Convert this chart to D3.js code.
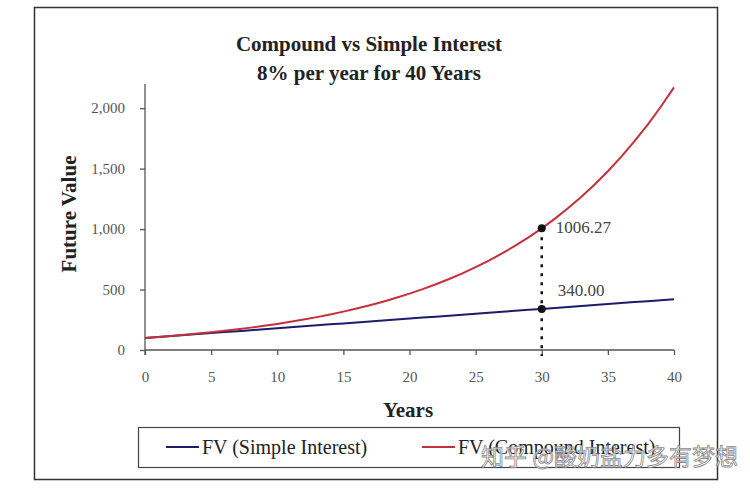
<!DOCTYPE html>
<html lang="en">
<head>
<meta charset="UTF-8">
<title>Compound vs Simple Interest</title>
<style>
  body { margin: 0; background: #fff; }
  .canvas text { font-family: "Liberation Serif", "DejaVu Serif", serif; }
</style>
</head>
<body>
<div class="canvas"></div>
<script src="https://d3js.org/d3.v7.min.js"></script>
<script>
// data (yearly values)
const years = d3.range(0, 41);
const simpleFV = [100, 108, 116, 124, 132, 140, 148, 156, 164, 172, 180,
  188, 196, 204, 212, 220, 228, 236, 244, 252, 260,
  268, 276, 284, 292, 300, 308, 316, 324, 332, 340,
  348, 356, 364, 372, 380, 388, 396, 404, 412, 420];
const compoundFV = [100.00, 108.00, 116.64, 125.97, 136.05, 146.93, 158.69, 171.38, 185.09, 199.90, 215.89,
  233.16, 251.82, 271.96, 293.72, 317.22, 342.59, 370.00, 399.60, 431.57, 466.10,
  503.38, 543.65, 587.15, 634.12, 684.85, 739.64, 798.81, 862.71, 931.73, 1006.27,
  1086.77, 1173.71, 1267.60, 1369.01, 1478.53, 1596.81, 1724.56, 1862.52, 2011.52, 2172.45];
const xTicks = [0, 5, 10, 15, 20, 25, 30, 35, 40];
const yTicks = [0, 500, 1000, 1500, 2000];
const markYear = 30;
const seriesNames = ["FV (Simple Interest)", "FV (Compound Interest)"];

const W = 750, H = 490;
const plot = { left: 145, right: 674, top: 84, bottom: 350 };

const svg = d3.select('.canvas').append('svg')
  .attr('width', W).attr('height', H);

// outer chart frame
svg.append('rect')
  .attr('x', 34.5).attr('y', 7.5)
  .attr('width', 683).attr('height', 472)
  .attr('fill', '#fff').attr('stroke', '#333').attr('stroke-width', 1.5);

const x = d3.scaleLinear().domain([0, 40]).range([plot.left, plot.right]);
const y = d3.scaleLinear().domain([0, 2200]).range([plot.bottom, plot.top]);

// title
const title = svg.append('text')
  .attr('text-anchor', 'middle')
  .attr('font-weight', 'bold').attr('font-size', 21).attr('fill', '#222');
title.append('tspan').attr('x', 369).attr('y', 51).text('Compound vs Simple Interest');
title.append('tspan').attr('x', 369).attr('y', 80).text('8% per year for 40 Years');

// axes
const xAxis = svg.append('g')
  .attr('transform', `translate(0,${plot.bottom})`)
  .call(d3.axisBottom(x).tickValues(xTicks).tickSize(5).tickPadding(16));
const yAxis = svg.append('g')
  .attr('transform', `translate(${plot.left},0)`)
  .call(d3.axisLeft(y).tickValues(yTicks).tickSize(5).tickPadding(15)
    .tickFormat(d3.format(',')));

[xAxis, yAxis].forEach(g => {
  g.select('.domain').attr('stroke', '#555').attr('stroke-width', 1.3);
  g.selectAll('.tick line').attr('stroke', '#555').attr('stroke-width', 1.3);
  g.selectAll('.tick text')
    .attr('font-family', '"Liberation Serif", serif')
    .attr('font-size', 15).attr('fill', '#555');
});
yAxis.select('.domain').attr('d', `M0,${plot.bottom + 5}V${plot.top}`);
xAxis.select('.domain').attr('d', `M${plot.left},0H${plot.right}`);

// axis titles
svg.append('text')
  .attr('x', 408).attr('y', 417)
  .attr('text-anchor', 'middle')
  .attr('font-weight', 'bold').attr('font-size', 21).attr('fill', '#222')
  .text('Years');
svg.append('text')
  .attr('transform', 'translate(76,214) rotate(-90)')
  .attr('text-anchor', 'middle')
  .attr('font-weight', 'bold').attr('font-size', 21).attr('fill', '#222')
  .text('Future Value');

// lines
const line = vals => d3.line()
  .x((d, i) => x(years[i]))
  .y(d => y(d))(vals);

svg.append('path')
  .attr('d', line(simpleFV))
  .attr('fill', 'none').attr('stroke', '#1c1c6a').attr('stroke-width', 2);
svg.append('path')
  .attr('d', line(compoundFV))
  .attr('fill', 'none').attr('stroke', '#c4303c').attr('stroke-width', 2);

// marker at year 30
const mi = years.indexOf(markYear);
svg.append('line')
  .attr('x1', x(markYear)).attr('x2', x(markYear))
  .attr('y1', y(compoundFV[mi])).attr('y2', plot.bottom + 6)
  .attr('stroke', '#111').attr('stroke-width', 2.5)
  .attr('stroke-dasharray', '3,6');
[compoundFV[mi], simpleFV[mi]].forEach(v => {
  svg.append('circle')
    .attr('cx', x(markYear)).attr('cy', y(v)).attr('r', 4)
    .attr('fill', '#111');
});
svg.append('text')
  .attr('x', x(markYear) + 14).attr('y', y(compoundFV[mi]) + 5)
  .attr('font-size', 17).attr('fill', '#444')
  .text(compoundFV[mi].toFixed(2));
svg.append('text')
  .attr('x', x(markYear) + 16).attr('y', y(simpleFV[mi]) - 13)
  .attr('font-size', 17).attr('fill', '#444')
  .text(simpleFV[mi].toFixed(2));

// legend
svg.append('rect')
  .attr('x', 138.5).attr('y', 427.5)
  .attr('width', 541).attr('height', 40)
  .attr('fill', '#fff').attr('stroke', '#444').attr('stroke-width', 1.2);
const legendColors = ['#1c1c6a', '#c4303c'];
const legendX = [166, 422];
seriesNames.forEach((name, i) => {
  svg.append('line')
    .attr('x1', legendX[i]).attr('x2', legendX[i] + 33)
    .attr('y1', 447).attr('y2', 447)
    .attr('stroke', legendColors[i]).attr('stroke-width', 2);
  svg.append('text')
    .attr('x', legendX[i] + 36).attr('y', 454)
    .attr('font-size', 20).attr('fill', '#222')
    .text(name);
});

// watermark
svg.append('text')
  .attr('x', 738).attr('y', 465)
  .attr('text-anchor', 'end')
  .style('font-family', '"Noto Sans CJK SC", sans-serif')
  .attr('font-size', 23)
  .attr('fill', '#fff').attr('fill-opacity', 0.8)
  .attr('stroke', '#8a8a8a').attr('stroke-width', 0.8)
  .text('知乎 @酸奶盐力多有梦想');
</script>
</body>
</html>
